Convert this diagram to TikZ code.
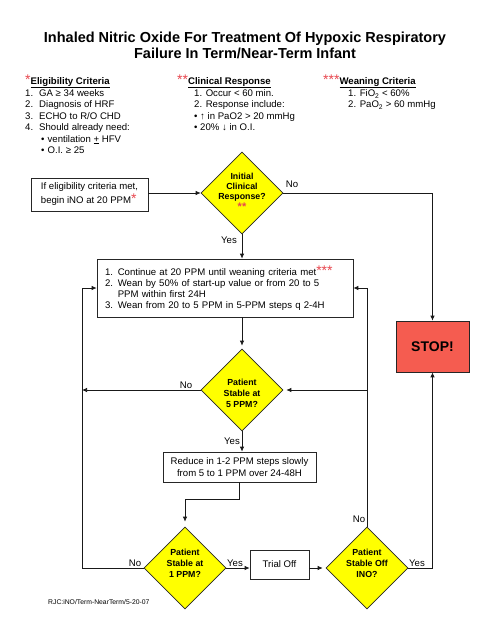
\documentclass[tikz,border=0pt]{standalone}
\usepackage{fontspec}
\setmainfont{Liberation Sans}
\usetikzlibrary{shapes.geometric,arrows.meta}
\definecolor{astred}{RGB}{232,70,78}
\definecolor{dyel}{RGB}{255,255,0}
\definecolor{stopred}{RGB}{245,92,80}
\newcommand{\rstars}[1]{{\color{astred}\fontsize{14}{14}\selectfont #1}}
\newcommand{\num}[1]{\makebox[14pt][l]{#1}}
\newcommand{\bul}{\makebox[6.5pt][l]{•}}
\begin{document}
\begin{tikzpicture}[x=1pt,y=-1pt,
  title/.style={font=\bfseries\fontsize{14.5}{16}\selectfont, inner sep=0, anchor=base},
  txt/.style={font=\fontsize{9.6}{11}\selectfont, inner sep=0, anchor=base west},
  lbl/.style={font=\fontsize{9.6}{11}\selectfont, inner sep=0},
  dia/.style={diamond, aspect=1, draw=black!85, line width=0.6pt, fill=dyel, minimum width=82pt, minimum height=82pt, inner sep=0},
  dtxt/.style={font=\bfseries\fontsize{8.8}{11}\selectfont, align=center, inner sep=0},
  box/.style={draw=black!85, line width=0.7pt, fill=white, font=\fontsize{9.6}{11}\selectfont},
  arr/.style={-{Latex[length=5pt,width=4.5pt]}},
  line/.style={draw=black!90, line width=0.75pt}
]
\useasboundingbox (0,0) rectangle (495,640);
\fill[white] (0,0) rectangle (495,640);

% title
\node[title] (t1) at (245,42) {Inhaled Nitric Oxide For Treatment Of Hypoxic Respiratory};
\node[title] (t2) at (245,58) {Failure In Term/Near-Term Infant};

% eligibility criteria
\node[txt] (eh) at (25,84) {\rstars{*}\underline{\textbf{Eligibility Criteria}}};
\node[txt] (e1) at (25,96.5) {\num{1.}GA ≥ 34 weeks};
\node[txt] (e2) at (25,107.9) {\num{2.}Diagnosis of HRF};
\node[txt] (e3) at (25,119.3) {\num{3.}ECHO to R/O CHD};
\node[txt] (e4) at (25,130.7) {\num{4.}Should already need:};
\node[txt] (e5) at (41,142.1) {\bul ventilation \underline{+} HFV};
\node[txt] (e6) at (41,153.5) {\bul O.I. ≥ 25};

% clinical response
\node[txt] (ch) at (177,84) {\rstars{**}\underline{\textbf{Clinical Response}}};
\node[txt] (c1) at (194,96.5) {1. Occur < 60 min.};
\node[txt] (c2) at (194,107.9) {2. Response include:};
\node[txt] (c3) at (194,119.3) {• ↑ in PaO2 > 20 mmHg};
\node[txt] (c4) at (194,130.7) {• 20\% ↓ in O.I.};

% weaning criteria
\node[txt] (wh) at (323,84) {\rstars{***}\underline{\textbf{Weaning Criteria}}};
\node[txt] (w1) at (348,96.5) {1. FiO\textsubscript{2} < 60\%};
\node[txt] (w2) at (348,107.9) {2. PaO\textsubscript{2} > 60 mmHg};

% boxes
\node[box, minimum width=117pt, minimum height=33pt, align=left, inner sep=0, font=\fontsize{9.6}{14}\selectfont] (elig) at (89.5,194.5)
  {If eligibility criteria met,\\begin iNO at 20 PPM\rstars{*}};
\node[box, minimum width=256pt, minimum height=58pt, text width=240pt, inner xsep=8pt, inner ysep=0pt, align=left] (big) at (225,288)
  {1. Continue at 20 PPM until weaning criteria met\rstars{***}\\
   2. Wean by 50\% of start-up value or from 20 to 5\\
   \hphantom{2. }PPM within first 24H\\
   3. Wean from 20 to 5 PPM in 5-PPM steps q 2-4H};
\node[box, minimum width=153pt, minimum height=30pt, align=center, inner sep=0, font=\fontsize{9.6}{12}\selectfont] (reduce) at (239.5,467)
  {Reduce in 1-2 PPM steps slowly\\from 5 to 1 PPM over 24-48H};
\node[box, minimum width=59pt, minimum height=29pt, inner sep=0] (trial) at (279.5,564.5) {Trial Off};
\node[box, fill=stopred, minimum width=73pt, minimum height=51pt, inner sep=0, font=\bfseries\fontsize{14}{16}\selectfont] (stop) at (432.5,346.5) {STOP!};

% diamonds
\node[dia] (d1) at (242,193) {};
\node[dtxt, font=\bfseries\fontsize{8.8}{10.4}\selectfont] (d1t) at (242,191.5) {Initial\\Clinical\\Response?\\{\color{astred}\fontsize{11}{10.4}\selectfont **}};
\node[dia] (d2) at (242,390) {};
\node[dtxt] (d2t) at (242,393) {Patient\\Stable at\\5 PPM?};
\node[dia] (d3) at (185,568) {};
\node[dtxt] (d3t) at (185,563) {Patient\\Stable at\\1 PPM?};
\node[dia] (d4) at (367,568) {};
\node[dtxt] (d4t) at (367,563) {Patient\\Stable Off\\INO?};

% footer
\node[txt, font=\fontsize{6.8}{8}\selectfont] (foot) at (48,604) {RJC:iNO/Term-NearTerm/5-20-07};

% coordinates
\coordinate (lmid) at (82,390);
\coordinate (ltop) at (82,288);
\coordinate (lbot) at (82,568);
\coordinate (rtop) at (367,288);
\coordinate (rmid) at (367,390);
\coordinate (kink) at (185,499);

% connectors
\draw[line,arr] (elig.east |- d1.west) -- (d1.west);
\draw[line,arr] (d1.east) -| (stop.north);
\draw[line,arr] (d1.south) -- (d1.south |- big.north);
\draw[line,arr,shorten >=3pt] (big.south -| d2.north) -- (d2.north);
\draw[line,arr] (d2.west) -- (lmid);
\draw[line,arr] (d2.south) -- (d2.south |- reduce.north);
\draw[line,arr,shorten >=5pt] (reduce.south) |- (kink) -- (d3.north);
\draw[line,arr] (d3.west) -- (lbot) -- (ltop) -- (big.west);
\draw[line,arr] (d3.east) -- (d3.east -| trial.west);
\draw[line,arr,shorten >=3pt] (trial.east |- d4.west) -- (d4.west);
\draw[line,arr] (d4.north) -- (rtop) -- (big.east);
\draw[line,arr,shorten >=3pt] (rmid) -- (d2.east);
\draw[line,arr] (d4.east) -| (stop.south);

% connector labels
\node[lbl] (n1) at (292,184) {No};
\node[lbl] (y1) at (229,240) {Yes};
\node[lbl] (n2) at (186,385) {No};
\node[lbl] (y2) at (232,441) {Yes};
\node[lbl] (n3) at (135,563) {No};
\node[lbl] (y3) at (235,563) {Yes};
\node[lbl] (n4) at (359,519) {No};
\node[lbl] (y4) at (417,563) {Yes};
\end{tikzpicture}
\end{document}
